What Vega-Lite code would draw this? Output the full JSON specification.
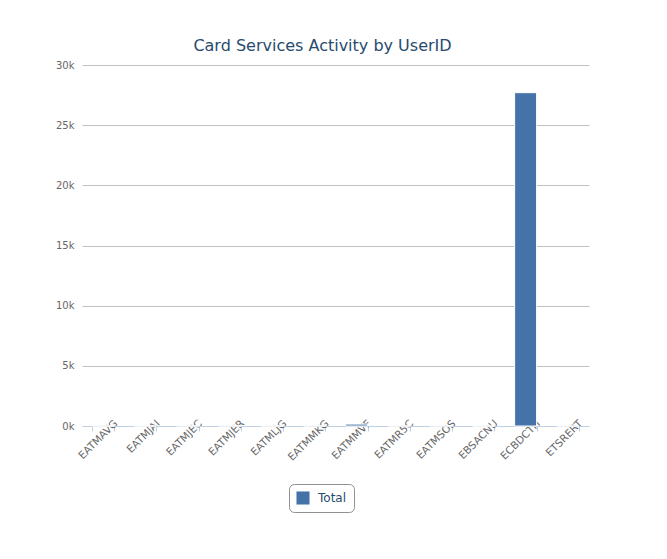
{
  "$schema": "https://vega.github.io/schema/vega-lite/v6.json",
  "autosize": "none",
  "width": 507,
  "height": 361,
  "padding": {"left": 82, "top": 65, "right": 78, "bottom": 133},
  "background": "white",
  "title": {
    "text": "Card Services Activity by UserID",
    "font": "DejaVu Sans",
    "fontSize": 16,
    "fontWeight": "normal",
    "color": "#274b6d",
    "anchor": "middle",
    "dx": -13,
    "offset": 6
  },
  "data": {
    "values": [
      {"user": "EATMAVG", "series": "Total", "count": 12},
      {"user": "EATMJAI", "series": "Total", "count": 8},
      {"user": "EATMJEC", "series": "Total", "count": 15},
      {"user": "EATMJER", "series": "Total", "count": 20},
      {"user": "EATMLJG", "series": "Total", "count": 9},
      {"user": "EATMMKG", "series": "Total", "count": 18},
      {"user": "EATMMVF", "series": "Total", "count": 160},
      {"user": "EATMR5C", "series": "Total", "count": 11},
      {"user": "EATMSOS", "series": "Total", "count": 14},
      {"user": "EBSACNU", "series": "Total", "count": 6},
      {"user": "ECBDCTH", "series": "Total", "count": 27700},
      {"user": "ETSRERT", "series": "Total", "count": 10}
    ]
  },
  "mark": {"type": "bar", "stroke": "white", "strokeWidth": 1},
  "encoding": {
    "x": {
      "field": "user",
      "type": "nominal",
      "sort": null,
      "scale": {"paddingInner": 0.48, "paddingOuter": 0.24},
      "axis": {
        "title": null,
        "labelAngle": -45,
        "labelAlign": "right",
        "labelBaseline": "top",
        "labelFont": "DejaVu Sans",
        "labelFontSize": 10.5,
        "labelColor": "#666666",
        "labelPadding": -13,
        "labelOffset": 9,
        "domainColor": "#c0d0e0",
        "tickColor": "#c0d0e0",
        "tickSize": 5,
        "tickBand": "extent",
        "grid": false
      }
    },
    "y": {
      "field": "count",
      "type": "quantitative",
      "scale": {"domain": [0, 30000]},
      "axis": {
        "title": null,
        "values": [0, 5000, 10000, 15000, 20000, 25000, 30000],
        "labelExpr": "(datum.value / 1000) + 'k'",
        "labelFont": "DejaVu Sans",
        "labelFontSize": 10,
        "labelColor": "#666666",
        "labelPadding": 8,
        "domain": false,
        "ticks": false,
        "gridColor": "#c0c0c0",
        "gridWidth": 1
      }
    },
    "color": {
      "field": "series",
      "type": "nominal",
      "scale": {"range": ["#4572a7"]},
      "legend": {
        "title": null,
        "orient": "none",
        "legendX": 207,
        "legendY": 419,
        "direction": "horizontal",
        "strokeColor": "#909090",
        "cornerRadius": 5,
        "padding": 7,
        "symbolType": "square",
        "symbolSize": 170,
        "symbolStrokeWidth": 0,
        "labelOffset": 8,
        "labelFont": "DejaVu Sans",
        "labelFontSize": 12,
        "labelColor": "#274b6d"
      }
    }
  },
  "config": {
    "view": {"stroke": null}
  }
}
